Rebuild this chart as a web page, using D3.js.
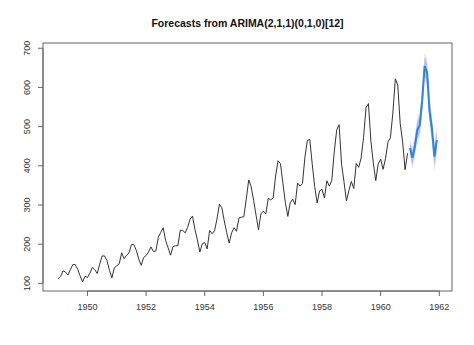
<!DOCTYPE html>
<html>
<head>
<meta charset="utf-8">
<script src="https://cdn.jsdelivr.net/npm/d3@7"></script>
<style>
  body { margin: 0; background: #fff; }
  text { font-family: "Liberation Sans", Arial, sans-serif; }
</style>
</head>
<body>
<div id="chart"></div>
<script>
// monthly passengers 1949-1960
const startYear = 1949;
const passengers = [
  112, 118, 132, 129, 121, 135, 148, 148, 136, 119, 104, 118,
  115, 126, 141, 135, 125, 149, 170, 170, 158, 133, 114, 140,
  145, 150, 178, 163, 172, 178, 199, 199, 184, 162, 146, 166,
  171, 180, 193, 181, 183, 218, 230, 242, 209, 191, 172, 194,
  196, 196, 236, 235, 229, 243, 264, 272, 237, 211, 180, 201,
  204, 188, 235, 227, 234, 264, 302, 293, 259, 229, 203, 229,
  242, 233, 267, 269, 270, 315, 364, 347, 312, 274, 237, 278,
  284, 277, 317, 313, 318, 374, 413, 405, 355, 306, 271, 306,
  315, 301, 356, 348, 355, 422, 465, 467, 404, 347, 305, 336,
  340, 318, 362, 348, 363, 435, 491, 505, 404, 359, 310, 337,
  360, 342, 406, 396, 420, 472, 548, 559, 463, 407, 362, 405,
  417, 391, 419, 461, 472, 535, 622, 606, 508, 461, 390, 432
];

// forecasts for 1961
const fcMean = [445.6, 420.4, 449.2, 491.8, 503.4, 566.9, 654.3, 638.0, 540.4, 494.1, 423.3, 465.5];
const lo80 = [430.9, 402.6, 429.3, 470.5, 481.2, 544.1, 631.0, 614.3, 516.4, 469.8, 398.7, 440.7];
const hi80 = [460.3, 438.2, 469.1, 513.1, 525.6, 589.7, 677.6, 661.7, 564.4, 518.4, 447.9, 490.3];
const lo95 = [423.1, 393.2, 418.8, 459.3, 469.4, 532.0, 618.7, 601.8, 503.7, 457.0, 385.7, 427.6];
const hi95 = [468.1, 447.6, 479.6, 524.3, 537.4, 601.8, 689.9, 674.2, 577.1, 531.2, 460.9, 503.4];

const xTicks = [1950, 1952, 1954, 1956, 1958, 1960, 1962];
const yTicks = [100, 200, 300, 400, 500, 600, 700];
const title = "Forecasts from ARIMA(2,1,1)(0,1,0)[12]";

const width = 474, height = 345;
const margin = { top: 43, right: 22, bottom: 54, left: 43 };

const svg = d3.select("#chart").append("svg")
  .attr("width", width)
  .attr("height", height);

const t = i => startYear + i / 12;
const hist = passengers.map((v, i) => ({ x: t(i), y: v }));
const fc = fcMean.map((v, i) => ({
  x: t(passengers.length + i), y: v,
  lo80: lo80[i], hi80: hi80[i], lo95: lo95[i], hi95: hi95[i]
}));

// R style 4% padding
const xMin = hist[0].x, xMax = fc[fc.length - 1].x;
const yMin = d3.min(passengers), yMax = d3.max(hi95);
const xPad = (xMax - xMin) * 0.04, yPad = (yMax - yMin) * 0.04;

const x = d3.scaleLinear()
  .domain([xMin - xPad, xMax + xPad])
  .range([margin.left, width - margin.right]);
const y = d3.scaleLinear()
  .domain([yMin - yPad, yMax + yPad])
  .range([height - margin.bottom, margin.top]);

// shaded intervals
const area = (lo, hi) => d3.area().x(d => x(d.x)).y0(d => y(d[lo])).y1(d => y(d[hi]));
svg.append("path").datum(fc).attr("fill", "#e2e5fa").attr("d", area("lo95", "hi95"));
svg.append("path").datum(fc).attr("fill", "#b8bfee").attr("d", area("lo80", "hi80"));

const line = d3.line().x(d => x(d.x)).y(d => y(d.y));
svg.append("path").datum(hist)
  .attr("fill", "none").attr("stroke", "#333").attr("stroke-width", 1)
  .attr("d", line);
svg.append("path").datum(fc)
  .attr("fill", "none").attr("stroke", "#2f86d6").attr("stroke-width", 2)
  .attr("d", line);

// box
svg.append("rect")
  .attr("x", margin.left).attr("y", margin.top)
  .attr("width", width - margin.left - margin.right)
  .attr("height", height - margin.top - margin.bottom)
  .attr("fill", "none").attr("stroke", "#666").attr("stroke-width", 1);

const axisCol = "#666";

// x axis
const gx = svg.append("g");
gx.append("line")
  .attr("x1", x(xTicks[0])).attr("x2", x(xTicks[xTicks.length - 1]))
  .attr("y1", height - margin.bottom).attr("y2", height - margin.bottom)
  .attr("stroke", axisCol);
gx.selectAll("line.tick").data(xTicks).enter().append("line")
  .attr("x1", d => x(d)).attr("x2", d => x(d))
  .attr("y1", height - margin.bottom).attr("y2", height - margin.bottom + 5)
  .attr("stroke", axisCol);
gx.selectAll("text").data(xTicks).enter().append("text")
  .attr("x", d => x(d)).attr("y", height - margin.bottom + 19)
  .attr("text-anchor", "middle").attr("font-size", "9px").attr("fill", "#333")
  .text(d => d);

// y axis
const gy = svg.append("g");
gy.append("line")
  .attr("x1", margin.left).attr("x2", margin.left)
  .attr("y1", y(yTicks[0])).attr("y2", y(yTicks[yTicks.length - 1]))
  .attr("stroke", axisCol);
gy.selectAll("line.tick").data(yTicks).enter().append("line")
  .attr("x1", margin.left - 5).attr("x2", margin.left)
  .attr("y1", d => y(d)).attr("y2", d => y(d))
  .attr("stroke", axisCol);
gy.selectAll("text").data(yTicks).enter().append("text")
  .attr("transform", d => `translate(${margin.left - 13},${y(d)}) rotate(-90)`)
  .attr("text-anchor", "middle").attr("font-size", "9px").attr("fill", "#333")
  .text(d => d);

svg.append("text")
  .attr("x", (margin.left + width - margin.right) / 2).attr("y", 27)
  .attr("text-anchor", "middle").attr("font-size", "10.5px").attr("font-weight", "bold")
  .attr("fill", "#111")
  .text(title);
</script>
</body>
</html>
